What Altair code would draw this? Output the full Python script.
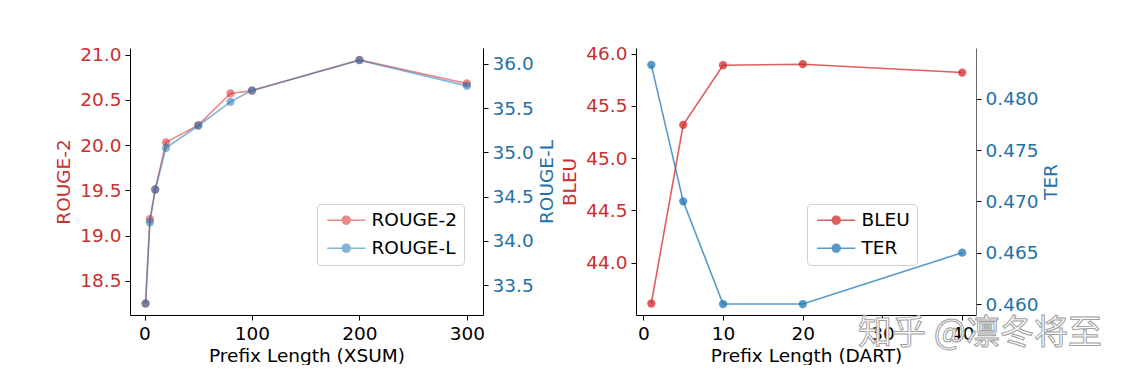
import altair as alt
import pandas as pd

# ---- data ----
xsum_prefix = [1, 5, 10, 20, 50, 80, 100, 200, 300]
rouge2 = [18.25, 19.18, 19.51, 20.03, 20.22, 20.57, 20.60, 20.94, 20.68]
rougeL = [33.29, 34.21, 34.58, 35.05, 35.30, 35.57, 35.70, 36.04, 35.75]

dart_prefix = [1, 5, 10, 20, 40]
bleu = [43.61, 45.32, 45.89, 45.90, 45.82]
ter = [0.4833, 0.4700, 0.4600, 0.4600, 0.4650]

xsum_ticks = [0, 100, 200, 300]
dart_ticks = [0, 10, 20, 30, 40]
rouge2_ticks = [18.5, 19.0, 19.5, 20.0, 20.5, 21.0]
rougeL_ticks = [33.5, 34.0, 34.5, 35.0, 35.5, 36.0]
bleu_ticks = [44.0, 44.5, 45.0, 45.5, 46.0]
ter_ticks = [0.460, 0.465, 0.470, 0.475, 0.480]

# axis ranges
xsum_dom = [-13.5, 315.0]
dart_dom = [-0.92, 41.73]
rouge2_dom = [18.122, 21.072]
rougeL_dom = [33.162, 36.178]
bleu_dom = [43.50, 46.055]
ter_dom = [0.45893, 0.48494]

watermark = ["知乎 @凛冬将至"]

RED = "#d62728"
BLUE = "#1f77b4"
RED_TXT = "#c8302f"
BLUE_TXT = "#2471a8"
FONT = "DejaVu Sans"
SYMBOL = ("M-3.17,-0.13H3.17V0.13H-3.17Z "
          "M0.78,0A0.78,0.78,0,1,1,-0.78,0A0.78,0.78,0,1,1,0.78,0Z")

H = 267


def series_layer(xs, ys, name, names, xdom, xticks, xtitle, ydom, yticks,
                 ytitle, yfmt, orient, color, txt_color, opacity, domain_color,
                 legend_x, legend_y):
    df = pd.DataFrame({"x": xs, "y": ys, "series": name})
    x = alt.X("x:Q", scale=alt.Scale(domain=xdom, nice=False, zero=False),
              axis=alt.Axis(values=xticks, title=xtitle, format="d"))
    yaxis_kw = dict(orient=orient, values=yticks, format=yfmt, title=ytitle,
                    titleColor=txt_color, labelColor=txt_color,
                    domainColor=domain_color)
    if orient == "right":
        yaxis_kw.update(titleAngle=270, titleBaseline="top", titlePadding=4)
    else:
        yaxis_kw.update(titlePadding=6)
    y = alt.Y("y:Q", scale=alt.Scale(domain=ydom, nice=False, zero=False),
              axis=alt.Axis(**yaxis_kw))
    base = alt.Chart(df).encode(x=x, y=y)
    line = base.mark_line(color=color, strokeWidth=1.6, opacity=opacity)
    pts = base.mark_point(filled=True, size=68, opacity=opacity).encode(
        color=alt.Color("series:N",
                        scale=alt.Scale(domain=names, range=[RED, BLUE]),
                        legend=alt.Legend(title=None, orient="none",
                                          legendX=legend_x, legendY=legend_y,
                                          symbolType=SYMBOL, symbolSize=144,
                                          symbolOpacity=opacity,
                                          symbolStrokeWidth=0,
                                          symbolOffset=13, labelOffset=16,
                                          rowPadding=9, padding=7,
                                          fillColor="white",
                                          strokeColor="#d0d0d0",
                                          cornerRadius=4,
                                          labelFontSize=18.5,
                                          labelColor="black",
                                          labelFont=FONT))
    )
    return line + pts


left_names = ["ROUGE-2", "ROUGE-L"]
l1 = series_layer(xsum_prefix, rouge2, "ROUGE-2", left_names, xsum_dom,
                  xsum_ticks, "Prefix Length (XSUM)", rouge2_dom,
                  rouge2_ticks, "ROUGE-2", ".1f", "left", RED, RED_TXT, 0.55,
                  "black", 187, 156)
l2 = series_layer(xsum_prefix, rougeL, "ROUGE-L", left_names, xsum_dom,
                  xsum_ticks, "Prefix Length (XSUM)", rougeL_dom,
                  rougeL_ticks, "ROUGE-L", ".1f", "right", BLUE, BLUE_TXT,
                  0.55, "black", 187, 156)
left = alt.layer(l1, l2).resolve_scale(y="independent").properties(
    width=353, height=H)

right_names = ["BLEU", "TER"]
r1 = series_layer(dart_prefix, bleu, "BLEU", right_names, dart_dom,
                  dart_ticks, "Prefix Length (DART)", bleu_dom,
                  bleu_ticks, "BLEU", ".1f", "left", RED, RED_TXT, 0.75,
                  "black", 171, 156)
r2 = series_layer(dart_prefix, ter, "TER", right_names, dart_dom,
                  dart_ticks, "Prefix Length (DART)", ter_dom,
                  ter_ticks, "TER", ".3f", "right", BLUE, BLUE_TXT, 0.75,
                  "#666666", 171, 156)
wm = alt.Chart(pd.DataFrame({"t": watermark})).mark_text(
    font="Noto Sans CJK SC", fontSize=34, fill="white", stroke="#a0a0a0",
    strokeWidth=1.0, align="center", baseline="middle"
).encode(text="t:N", x=alt.value(344), y=alt.value(286))
right = alt.layer(r1, r2, wm).resolve_scale(y="independent").properties(
    width=340, height=H)

chart = alt.hconcat(left, right, spacing=153, bounds="flush").resolve_scale(
    color="independent"
).properties(
    padding={"left": 46, "top": 36, "right": 0, "bottom": 0}
).configure_view(stroke=None).configure_axis(
    grid=False, tickSize=5, tickColor="black", domainColor="black",
    tickWidth=1, domainWidth=1, labelFontSize=18.5, titleFontSize=18.5,
    labelFont=FONT, titleFont=FONT, titleFontWeight="normal",
    labelColor="black", titleColor="black", labelPadding=4, titlePadding=4
)

chart.save("out.html", embed_options={"renderer": "svg", "actions": False})
